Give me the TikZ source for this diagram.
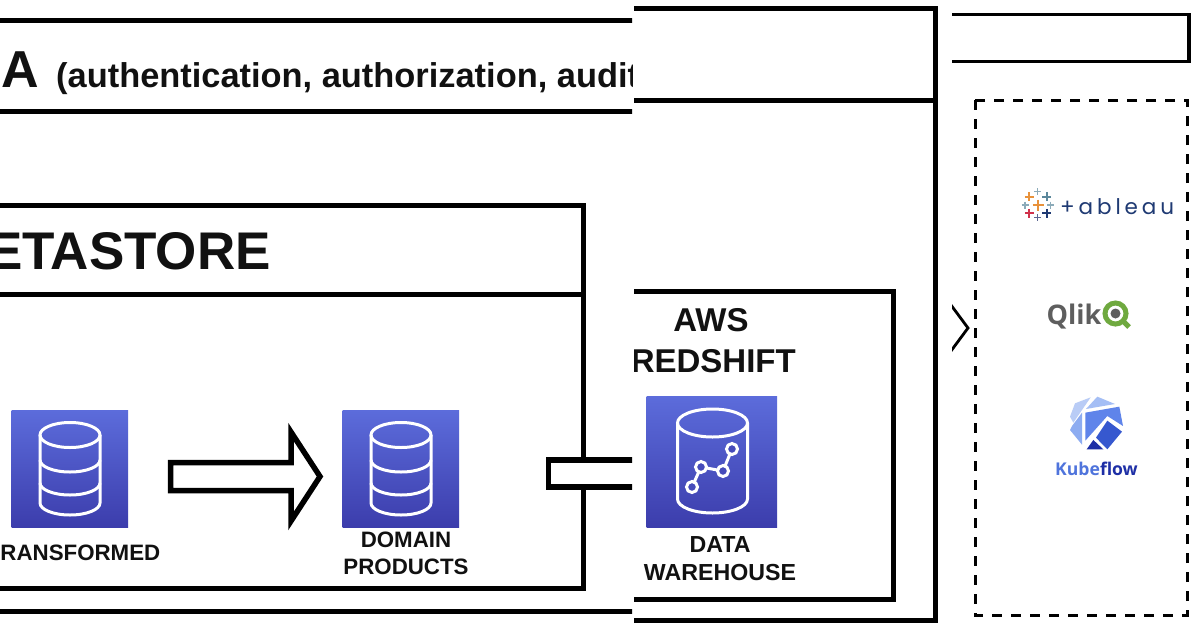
\documentclass[tikz,border=0pt]{standalone}
\usepackage{fontspec}
\setmainfont{Liberation Sans}
\newfontfamily\tabfont[LetterSpace=18]{Poppins}
\newfontfamily\logofont{Open Sans}
\definecolor{iconTop}{HTML}{5C6CDB}
\definecolor{iconBot}{HTML}{3C3DAC}
\definecolor{ink}{HTML}{111111}
\definecolor{tabNavy}{HTML}{1F3A73}
\definecolor{tabOrange}{HTML}{E8923B}
\definecolor{tabSteel}{HTML}{5B879B}
\definecolor{tabRed}{HTML}{D0324A}
\definecolor{tabSlate}{HTML}{5C6692}
\definecolor{qlikGreen}{HTML}{6FA93F}
\definecolor{qlikGrey}{HTML}{5E5E5E}
\definecolor{kfA}{HTML}{B9CCF6}
\definecolor{kfB}{HTML}{A4BEF5}
\definecolor{kfC}{HTML}{5F84EA}
\definecolor{kfD}{HTML}{8DACF1}
\definecolor{kfE}{HTML}{3658CF}
\definecolor{kfF}{HTML}{1E2FA6}
\definecolor{kfBlue}{HTML}{4F74DC}
\tikzset{
  frame/.style={line width=5pt,draw=black,line join=miter},
  thinframe/.style={line width=3.4pt,draw=black,line join=miter},
  blockarrow/.style={line width=5.5pt,draw=black,fill=white,line join=miter},
  icon/.style={draw=none,top color=iconTop,bottom color=iconBot},
  iconline/.style={draw=white,line width=3pt},
  lab/.style={font=\bfseries\fontsize{22.3}{24}\selectfont,text=ink,inner sep=0pt,anchor=base},
  labw/.style={font=\bfseries\fontsize{23.2}{25}\selectfont,text=ink,inner sep=0pt,anchor=base},
  dbicon/.pic={
    \draw[iconline] (-30,-2) -- (-30,66) arc[start angle=180,end angle=0,x radius=30,y radius=12] -- (30,-2);
    \draw[iconline] (0,-2) ellipse[x radius=30,y radius=12.5];
    \draw[iconline] (-30,23) arc[start angle=180,end angle=0,x radius=30,y radius=12];
    \draw[iconline] (-30,46) arc[start angle=180,end angle=0,x radius=30,y radius=12];
  }
}
\newcommand{\tabcross}[4]{\draw[#4,line width=#3pt] (#1-#3*2.5,#2) -- (#1+#3*2.5,#2) (#1,#2-#3*2.5) -- (#1,#2+#3*2.5);}
\begin{document}
\begin{tikzpicture}[x=1pt,y=-1pt]
\useasboundingbox (0,0) rectangle (1200,630);
\fill[white] (0,0) rectangle (1200,630);

% ---- left panel
\begin{scope}
\clip (0,0) rectangle (632,630);
\draw[frame] (-10,20) -- (640,20);
\draw[frame] (-10,111) -- (640,111);
\draw[frame] (-10,611) -- (640,611);
\node[inner sep=0pt,anchor=base west,font=\bfseries\fontsize{52}{54}\selectfont,text=ink] (aaa) at (1,87) {A};
\node[inner sep=0pt,anchor=base west,font=\bfseries\fontsize{34.4}{38}\selectfont,text=ink] (aaatext) at (56,87) {(authentication, authorization, audit};
\draw[frame] (-10,205) -- (583,205) -- (583,588) -- (-10,588);
\draw[frame] (-10,294.5) -- (583,294.5);
\node[inner sep=0pt,anchor=base east,font=\bfseries\fontsize{53}{58}\selectfont,text=ink] (meta) at (271,269) {ETASTORE};
\shade[icon] (11.5,410) rectangle (128,527);
\pic at (70,437) {dbicon};
\shade[icon] (342.5,410) rectangle (459,527);
\pic at (401,437) {dbicon};
\node[lab,anchor=base east] (transformed) at (160.5,560) {RANSFORMED};
\node[lab] (domain) at (406,547) {DOMAIN};
\node[lab] (products) at (406,574) {PRODUCTS};
\draw[blockarrow] (170.5,462.5) -- (291,462.5) -- (291,432) -- (320,476.5) -- (291,521) -- (291,490.5) -- (170.5,490.5) -- cycle;
\draw[blockarrow] (660,460) -- (548.5,460) -- (548.5,487) -- (660,487);
\end{scope}

% ---- middle panel
\begin{scope}
\clip (634,0) rectangle (950,630);
\draw[frame] (620,8) -- (935,8) -- (935,620) -- (620,620);
\draw[frame] (620,100.5) -- (935,100.5);
\draw[frame] (620,291.5) -- (893,291.5) -- (893,599.5) -- (620,599.5);
\node[inner sep=0pt,anchor=base,font=\bfseries\fontsize{33}{36}\selectfont,text=ink] (aws) at (711,331) {AWS};
\node[inner sep=0pt,anchor=base east,font=\bfseries\fontsize{33}{36}\selectfont,text=ink] (redshift) at (796,372) {REDSHIFT};
\shade[icon] (646.5,396) rectangle (777,527);
\draw[iconline] (677.5,423) -- (677.5,499) arc[start angle=180,end angle=0,x radius=35,y radius=14] -- (747.5,423);
\draw[iconline] (712.5,423) ellipse[x radius=35,y radius=14];
\coordinate (p1) at (692,487);
\coordinate (p2) at (701,467);
\coordinate (p3) at (723,471);
\coordinate (p4) at (732,449);
\draw[iconline] (p1) -- (p2) -- (p3) -- (p4);
\foreach \p in {p1,p2,p3,p4} \draw[iconline,fill=iconBot!70!iconTop] (\p) circle[radius=5.5];
\node[labw] (data) at (720,552.5) {DATA};
\node[labw] (warehouse) at (720,580) {WAREHOUSE};
\end{scope}

% ---- right panel
\begin{scope}
\clip (952,0) rectangle (1200,630);
\draw[thinframe] (940,14.5) -- (1189,14.5) -- (1189,61.5) -- (940,61.5);
\draw[line width=2.8pt,draw=black,line join=miter] (948,301) -- (968,328) -- (948,355);
\end{scope}
\draw[line width=3pt,dash pattern=on 10pt off 9pt,draw=black] (975,100) rectangle (1187,615);

% ---- tableau
\tabcross{1038.3}{205}{2.2}{tabOrange}
\tabcross{1029.3}{196.7}{1.8}{tabOrange}
\tabcross{1046.7}{196.7}{1.8}{tabSteel}
\tabcross{1029.3}{213.3}{1.8}{tabRed}
\tabcross{1046.7}{213.3}{1.8}{tabNavy}
\tabcross{1037.7}{191.7}{1.4}{tabSteel!70!white}
\tabcross{1025}{205}{1.4}{tabSteel!70!white}
\tabcross{1050.7}{205}{1.4}{tabSteel!70!white}
\tabcross{1037.7}{217.7}{1.4}{tabSlate}
\node[inner sep=0pt,anchor=base west,text=tabNavy,font=\tabfont\fontsize{21.5}{24}\selectfont] (tableau) at (1060,214) {+ableau};

% ---- qlik
\node[inner sep=0pt,anchor=base west,text=qlikGrey,font=\logofont\bfseries\fontsize{27}{30}\selectfont] (qlik) at (1046.5,324.5) {Qlik};
\draw[qlikGreen,line width=5pt] (1115.5,313.5) circle[radius=10.5];
\draw[qlikGreen,line width=5pt] (1122,320) -- (1129,327);
\fill[qlikGrey] (1115.5,313.5) circle[radius=5];

% ---- kubeflow
\begin{scope}[shift={(1020,290)},x=0.3333pt,y=-0.3333pt]
\fill[kfA] (165,340) -- (212,322) -- (160,398) -- (150,380) -- cycle;
\fill[kfB] (232,320) -- (285,342) -- (198,357) -- cycle;
\fill[kfC] (196,368) -- (298,350) -- (309,408) -- (262,378) -- (196,452) -- cycle;
\fill[kfD] (186,368) -- (186,464) -- (150,420) -- (156,408) -- cycle;
\fill[kfE] (262,392) -- (306,425) -- (262,478) -- (228,443) -- cycle;
\fill[kfF] (220,450) -- (250,478) -- (200,478) -- cycle;
\end{scope}
\node[inner sep=0pt,anchor=base,font=\logofont\bfseries\fontsize{17.6}{20}\selectfont] (kubeflow) at (1096.5,475) {\textcolor{kfBlue}{Kube}\textcolor{kfF}{flow}};
\end{tikzpicture}
\end{document}
